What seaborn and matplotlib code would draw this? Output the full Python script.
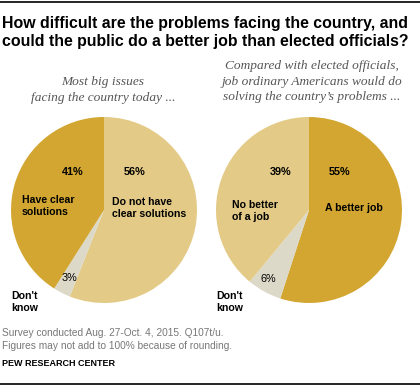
import matplotlib
matplotlib.use("Agg")
import matplotlib.pyplot as plt
import seaborn as sns

# data
left_labels = ["Do not have\nclear solutions", "Don't\nknow", "Have clear\nsolutions"]
left_values = [56, 3, 41]
right_labels = ["A better job", "Don't\nknow", "No better\nof a job"]
right_values = [55, 6, 39]

dark = "#D2A631"
light = "#E3CA86"
grey = "#DCD9C8"

sns.set_theme(style="white")
plt.rcParams["font.family"] = ["Liberation Sans", "DejaVu Sans"]

W, H = 420, 386
fig = plt.figure(figsize=(W / 100, H / 100), dpi=100)


def px(x, y):
    return x / W, 1 - y / H


def add_pie(cx, cy, r, values, colors):
    ax = fig.add_axes([(cx - r) / W, 1 - (cy + r) / H, 2 * r / W, 2 * r / H])
    ax.pie(values, colors=colors, startangle=90, counterclock=False, radius=1,
           wedgeprops=dict(linewidth=0))
    ax.set_xlim(-1, 1)
    ax.set_ylim(-1, 1)
    ax.set_aspect("equal")
    ax.axis("off")
    return ax


add_pie(104, 210, 93, left_values, [light, grey, dark])
add_pie(309, 210, 93, right_values, [dark, grey, light])

# top / bottom rules
fig.add_artist(plt.Line2D([0, 1], [1 - 1.5 / H, 1 - 1.5 / H], color="black", lw=1.2))
fig.add_artist(plt.Line2D([0, 1], [1 - 384 / H, 1 - 384 / H], color="black", lw=1.2))

title = "How difficult are the problems facing the country, and\ncould the public do a better job than elected officials?"
fig.text(*px(2, 32.5), title, fontsize=11.4, fontweight="bold", color="black",
         va="center", ha="left", linespacing=1.3)

sub_kw = dict(fontsize=9.6, style="italic", color="#555555", ha="center", va="center",
              family="Liberation Serif", linespacing=1.38)
fig.text(*px(103, 90), "Most big issues\nfacing the country today ...", **sub_kw)
fig.text(*px(312, 81.5), "Compared with elected officials,\njob ordinary Americans would do\nsolving the country\u2019s problems ...", **sub_kw)

lab = dict(fontsize=7.6, fontweight="bold", color="black", va="center", linespacing=1.2)
pct = dict(fontsize=7.8, color="black", va="center", ha="center", fontweight="bold")

# left pie labels
fig.text(*px(73, 172), f"{left_values[2]}%", **pct)
fig.text(*px(135, 172), f"{left_values[0]}%", **pct)
fig.text(*px(69, 278), f"{left_values[1]}%", fontsize=7.8, color="black", va="center", ha="center")
fig.text(*px(22, 206), left_labels[2], ha="left", **lab)
fig.text(*px(112, 208), left_labels[0], ha="left", **lab)
fig.text(*px(11, 302), left_labels[1], ha="left", **lab)

# right pie labels
fig.text(*px(281, 172), f"{right_values[2]}%", **pct)
fig.text(*px(340, 172), f"{right_values[0]}%", **pct)
fig.text(*px(268, 279), f"{right_values[1]}%", fontsize=7.8, color="black", va="center", ha="center")
fig.text(*px(232, 211), right_labels[2], ha="left", **lab)
fig.text(*px(325, 208), right_labels[0], ha="left", **lab)
fig.text(*px(216, 302), right_labels[1], ha="left", **lab)

# footer
fig.text(*px(2, 339.5), "Survey conducted Aug. 27-Oct. 4, 2015. Q107t/u.\nFigures may not add to 100% because of rounding.",
         fontsize=7.3, color="#777777", ha="left", va="center", linespacing=1.3)
fig.text(*px(2, 364), "PEW RESEARCH CENTER", fontsize=6.5, fontweight="bold",
         color="black", ha="left", va="center")

fig.savefig("out.png", dpi=100)
